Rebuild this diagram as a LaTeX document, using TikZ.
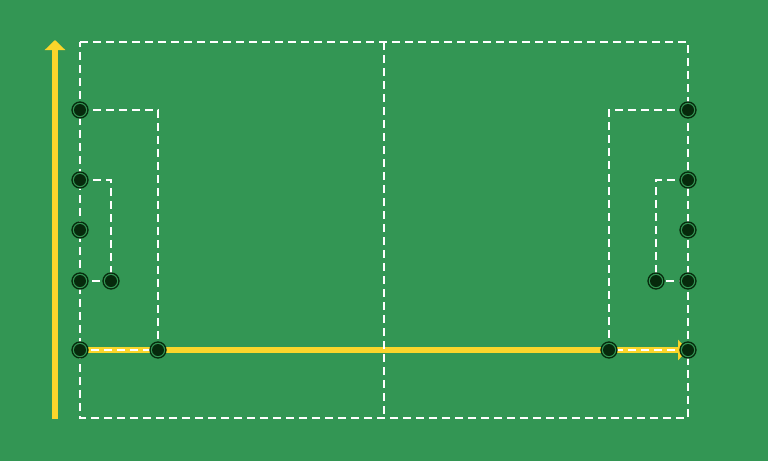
\documentclass[tikz,border=0pt]{standalone}
\usetikzlibrary{arrows.meta}
\definecolor{pitch}{HTML}{339654}
\definecolor{runyellow}{HTML}{FBD52B}
\definecolor{conedark}{HTML}{062A0C}
\begin{document}
\begin{tikzpicture}[x=1pt, y=-1pt,
  pitchline/.style = {white, line width=2.8pt, dash pattern=on 8pt off 5pt},
  runarrow/.style = {runyellow, line width=5.5pt, -{Triangle[width=20pt, length=10pt]}},
  cone/.style = {circle, minimum size=16pt, inner sep=0pt, draw=conedark, line width=1.3pt, fill=pitch,
    path picture={\fill[conedark] (path picture bounding box.center) circle (6pt);}}]
\fill[pitch] (0,0) rectangle (768,461);
\useasboundingbox (0,0) rectangle (768,461);

% field corners and halfway line
\coordinate (tl) at (80,42);
\coordinate (tr) at (688,42);
\coordinate (bl) at (80,418);
\coordinate (br) at (688,418);
\coordinate (mt) at (384,42);
\coordinate (mb) at (384,418);

% cone spots
\coordinate (l1) at (80,110);
\coordinate (l2) at (80,180);
\coordinate (l3) at (80,230);
\coordinate (l4) at (80,281);
\coordinate (l5) at (80,350);
\coordinate (lg) at (111,281);
\coordinate (lp) at (158,350);
\coordinate (r1) at (688,110);
\coordinate (r2) at (688,180);
\coordinate (r3) at (688,230);
\coordinate (r4) at (688,281);
\coordinate (r5) at (688,350);
\coordinate (rg) at (656,281);
\coordinate (rp) at (609,350);

% running arrows
\coordinate (up0) at (55,419);
\coordinate (up1) at (55,40);
\draw[runarrow] (up0) -- (up1);
\draw[runarrow] (l5) -- (r5);

% pitch markings
\draw[pitchline] (tl) -- (tr) -- (br) -- (bl) -- cycle;
\draw[pitchline] (mt) -- (mb);
\draw[pitchline] (l1) -| (lp) -- (l5);
\draw[pitchline] (r1) -| (rp) -- (r5);
\draw[pitchline] (l2) -| (lg) -- (l4);
\draw[pitchline] (r2) -| (rg) -- (r4);

\foreach \p in {l1,l2,l3,l4,l5,lg,lp,r1,r2,r3,r4,r5,rg,rp}
   \node[cone] (c-\p) at (\p) {};
\end{tikzpicture}
\end{document}
